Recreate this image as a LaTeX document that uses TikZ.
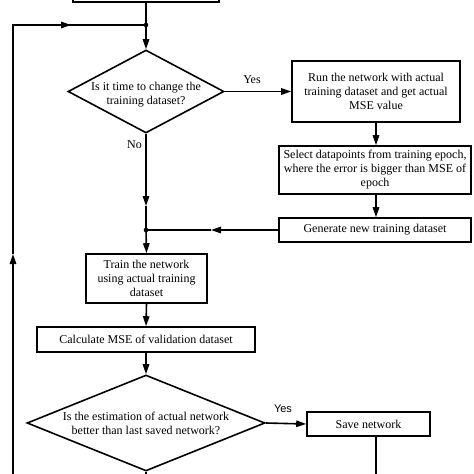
\documentclass[tikz,border=0pt]{standalone}
\usepackage{fontspec}
\setmainfont{Liberation Serif}
\newfontfamily\arialfont{Liberation Sans}
\usetikzlibrary{arrows.meta,shapes.geometric}
\begin{document}
\begin{tikzpicture}[x=1pt,y=-1pt,
  every node/.style={font=\fontsize{12}{14}\selectfont},
  box/.style={draw,line width=1.6pt,rectangle,inner sep=0pt,align=center},
  dia/.style={draw,line width=1.6pt,diamond,inner sep=0pt},
  ln/.style={line width=1.6pt},
  arr/.style={line width=1.6pt,-{Triangle[length=10pt,width=6.5pt]}},
  dot/.style={fill=black}]
\useasboundingbox (0,0) rectangle (474,474);
\clip (0,0) rectangle (474,474);
% nodes
\node[box,minimum width=146,minimum height=30] (top) at (146,-13) {};
\node[dia,minimum width=156,minimum height=83,
  label={[align=center,yshift=-3pt]center:Is it time to change the\\training dataset?}] (d1) at (146,91.5) {};
\node[box,minimum width=168,minimum height=61] (b1) at (376,91.5) {Run the network with actual\\training dataset and get actual\\MSE value};
\node[box,minimum width=192,minimum height=48] (b2) at (375,170) {Select datapoints from training epoch,\\where the error is bigger than MSE of\\epoch};
\node[box,minimum width=192,minimum height=24] (b3) at (375,230) {Generate new training dataset};
\node[box,minimum width=121,minimum height=49] (b4) at (146.5,278.5) {Train the network\\using actual training\\dataset};
\node[box,minimum width=218,minimum height=25] (b5) at (146,339.5) {Calculate MSE of validation dataset};
\node[dia,minimum width=238,minimum height=96,
  label={[align=center]center:Is the estimation of actual network\\better than last saved network?}] (d2) at (146,423) {};
\node[box,minimum width=123,minimum height=24] (sv) at (368.5,424) {Save network};
% labels
\node (yes1) at (252,80) {Yes};
\node (no1) at (134.5,145) {No};
\node[font=\arialfont\fontsize{11}{13.5}\selectfont] (yes2) at (283,409) {Yes};
% coordinates
\coordinate (j1) at (146,25);
\coordinate (j2) at (146,230);
\coordinate (c1) at (13,25);
\coordinate (bl) at (13,480);
\coordinate (mup) at (13,254);
\coordinate (mright) at (71,25);
\coordinate (mdown) at (146,206);
\coordinate (mleft) at (211,230);
\coordinate (svend) at (376,480);
\coordinate (d2end) at (146,480);
% connectors
\draw[ln] (top.south) -- (j1);
\draw[arr] (j1) -- (d1.north);
\draw[arr] (bl) -- (mup);
\draw[ln] (mup) -- (c1) -- (j1);
\draw[arr] (c1) -- (mright);
\draw[arr] (d1.east) -- (b1.west);
\draw[arr] (b1.south) -- (b1.south |- b2.north);
\draw[arr] (b1.south |- b2.south) -- (b1.south |- b3.north);
\draw[arr] (b3.west) -- (mleft);
\draw[ln] (mleft) -- (j2);
\draw[arr] (d1.south) -- (mdown);
\draw[ln] (mdown) -- (j2);
\draw[arr] (j2) -- (b4.north);
\draw[arr] (b4.south) -- (b5.north);
\draw[arr] (b5.south) -- (d2.north);
\draw[arr] (d2.east) -- (sv.west);
\draw[ln] (sv.south -| svend) -- (svend);
\draw[ln] (d2.south) -- (d2end);
\fill[dot] (j1) circle (2.3);
\fill[dot] (j2) circle (2.3);
\end{tikzpicture}
\end{document}
